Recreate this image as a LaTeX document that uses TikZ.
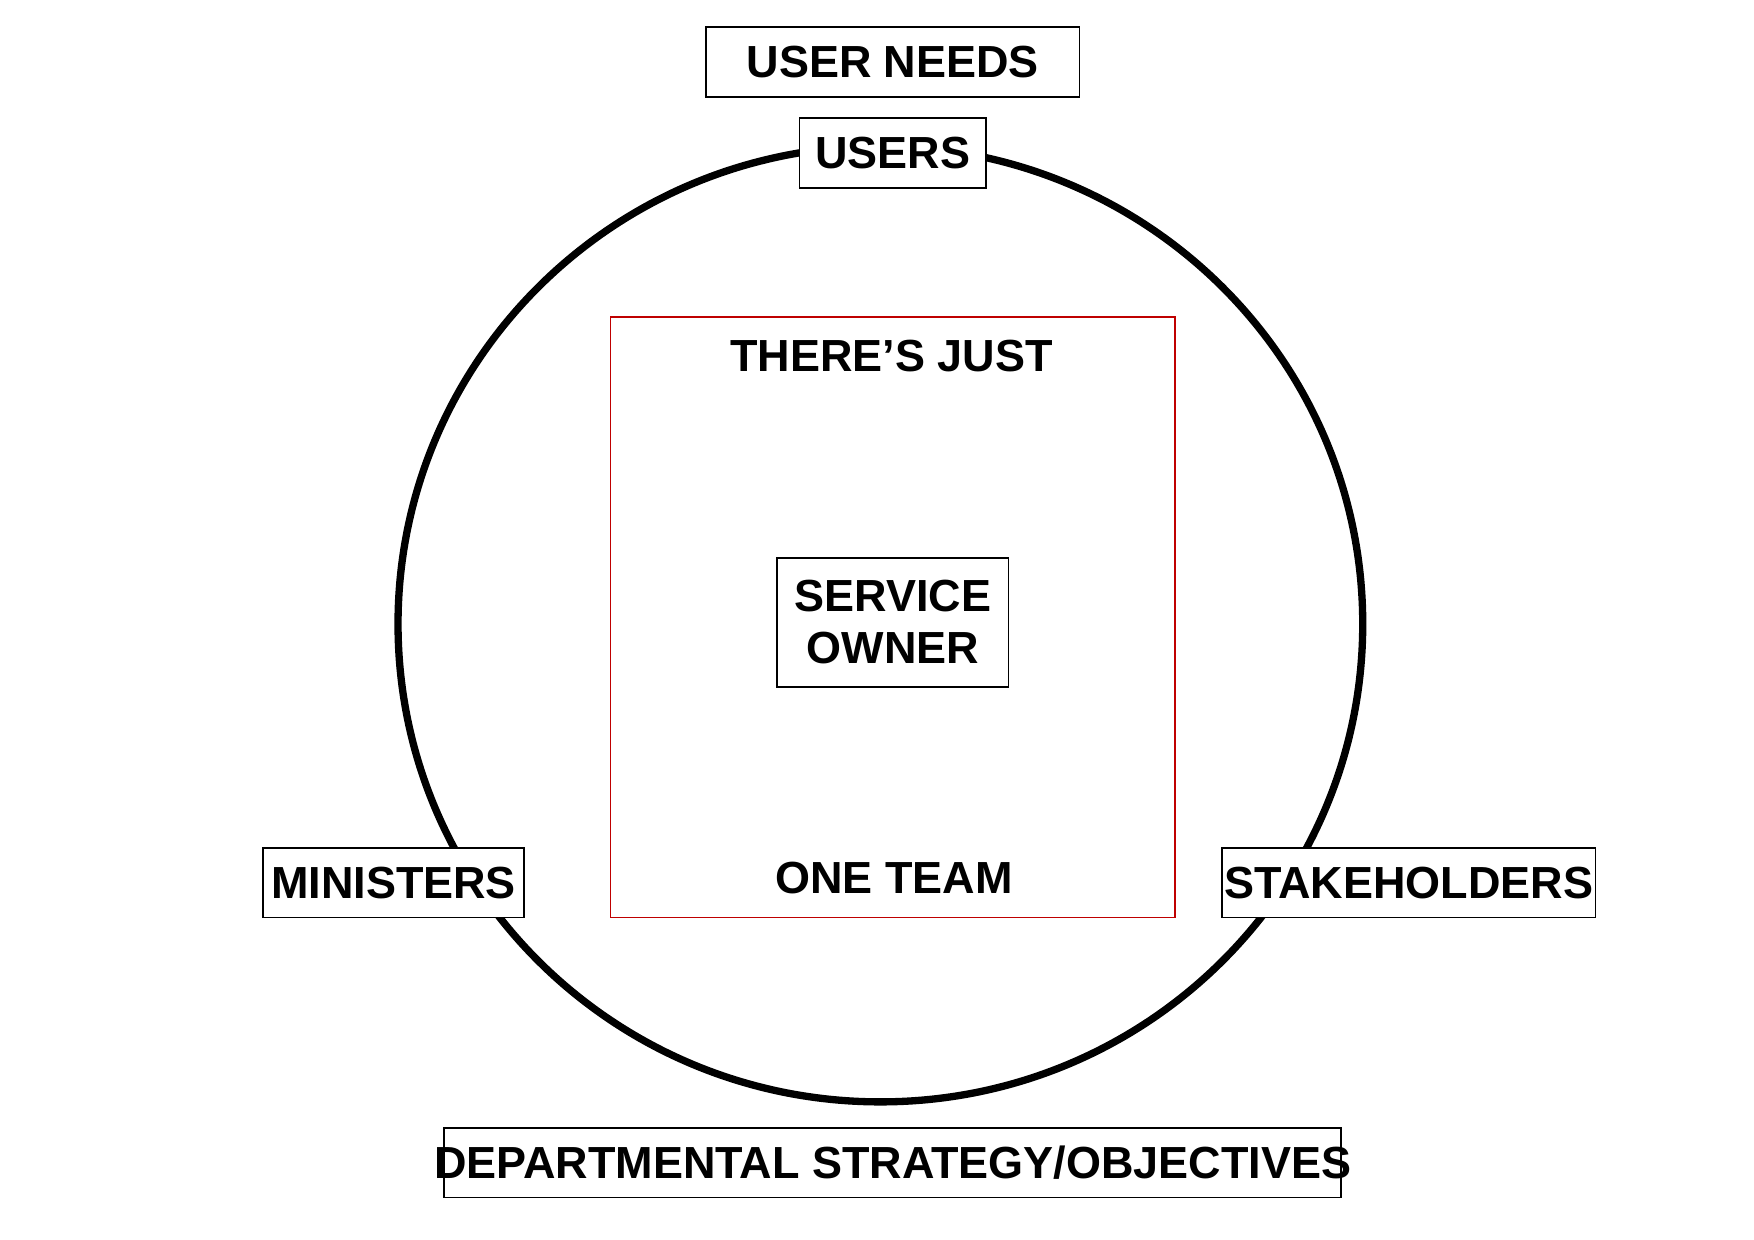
\documentclass[tikz,border=0pt]{standalone}
\usepackage{fontspec}
\setmainfont{Liberation Sans}
\begin{document}
\begin{tikzpicture}[x=1pt,y=-1pt,
 lab/.style={font=\fontsize{40}{46}\selectfont\bfseries},
 bx/.style={draw,line width=1.6pt,fill=white,inner sep=0pt}]
\useasboundingbox (0,0) rectangle (1560,1102);
\draw[line width=6.5pt] (783,555) ellipse [x radius=429, y radius=425];
\draw[red!75!black,line width=1.5pt] (543,282) rectangle (1045,816);
\node[bx,minimum width=332,minimum height=62] (needs) at (794,55) {};
\node[lab] at (needs) {USER NEEDS};
\node[bx,minimum width=166,minimum height=62] (users) at (794,136) {};
\node[lab] at (users) {USERS};
\node[lab] (just) at (793,317) {THERE’S JUST};
\node[lab] (team) at (795,781) {ONE TEAM};
\node[bx,minimum width=206,minimum height=115] (owner) at (794,553.5) {};
\node[lab,align=center] at (owner) {SERVICE\\OWNER};
\node[bx,minimum width=232,minimum height=62] (min) at (350,785) {};
\node[lab] at (min) {MINISTERS};
\node[bx,minimum width=332,minimum height=62] (stake) at (1253,785) {};
\node[lab] at (stake) {STAKEHOLDERS};
\node[bx,minimum width=798,minimum height=62] (dept) at (794,1034) {};
\node[lab] at (dept) {DEPARTMENTAL STRATEGY/OBJECTIVES};
\end{tikzpicture}
\end{document}
